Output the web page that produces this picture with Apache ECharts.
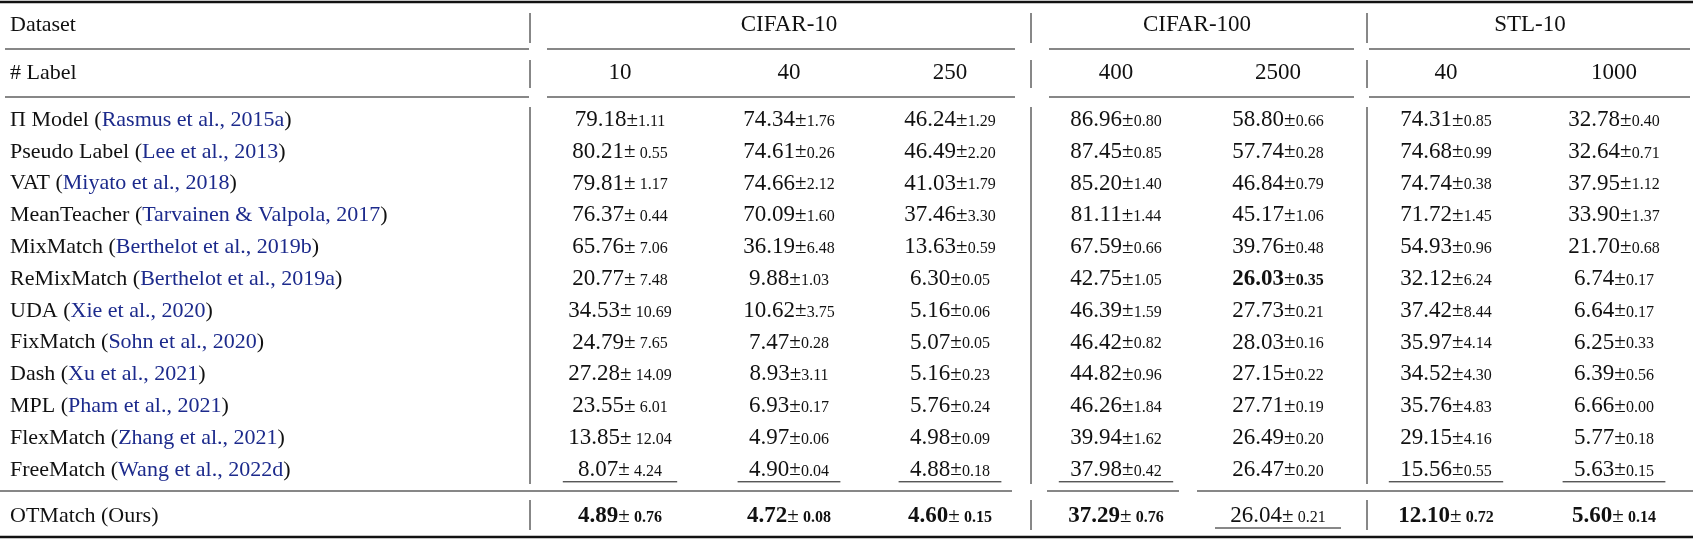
<!DOCTYPE html>
<html>
<head>
<meta charset="utf-8">
<script src="https://cdn.jsdelivr.net/npm/echarts@6/dist/echarts.min.js"></script>
<style>html,body{margin:0;padding:0;background:#fff}#main{width:1693px;height:544px}</style>
</head>
<body>
<div id="main"></div>
<script>
const methods = ['\u03A0 Model', 'Pseudo Label', 'VAT', 'MeanTeacher', 'MixMatch', 'ReMixMatch', 'UDA', 'FixMatch', 'Dash', 'MPL', 'FlexMatch', 'FreeMatch', 'OTMatch']
const cites = ['Rasmus et al., 2015a', 'Lee et al., 2013', 'Miyato et al., 2018', 'Tarvainen & Valpola, 2017', 'Berthelot et al., 2019b', 'Berthelot et al., 2019a', 'Xie et al., 2020', 'Sohn et al., 2020', 'Xu et al., 2021', 'Pham et al., 2021', 'Zhang et al., 2021', 'Wang et al., 2022d', '']
const groups = ['CIFAR-10', 'CIFAR-100', 'STL-10']
const labels = ['10', '40', '250', '400', '2500', '40', '1000']
// mean / std per column
const c10_10 = [['79.18', '1.11'], ['80.21', ' 0.55'], ['79.81', ' 1.17'], ['76.37', ' 0.44'], ['65.76', ' 7.06'], ['20.77', ' 7.48'], ['34.53', ' 10.69'], ['24.79', ' 7.65'], ['27.28', ' 14.09'], ['23.55', ' 6.01'], ['13.85', ' 12.04'], ['8.07', ' 4.24'], ['4.89', ' 0.76']]
const c10_40 = [['74.34', '1.76'], ['74.61', '0.26'], ['74.66', '2.12'], ['70.09', '1.60'], ['36.19', '6.48'], ['9.88', '1.03'], ['10.62', '3.75'], ['7.47', '0.28'], ['8.93', '3.11'], ['6.93', '0.17'], ['4.97', '0.06'], ['4.90', '0.04'], ['4.72', ' 0.08']]
const c10_250 = [['46.24', '1.29'], ['46.49', '2.20'], ['41.03', '1.79'], ['37.46', '3.30'], ['13.63', '0.59'], ['6.30', '0.05'], ['5.16', '0.06'], ['5.07', '0.05'], ['5.16', '0.23'], ['5.76', '0.24'], ['4.98', '0.09'], ['4.88', '0.18'], ['4.60', ' 0.15']]
const c100_400 = [['86.96', '0.80'], ['87.45', '0.85'], ['85.20', '1.40'], ['81.11', '1.44'], ['67.59', '0.66'], ['42.75', '1.05'], ['46.39', '1.59'], ['46.42', '0.82'], ['44.82', '0.96'], ['46.26', '1.84'], ['39.94', '1.62'], ['37.98', '0.42'], ['37.29', ' 0.76']]
const c100_2500 = [['58.80', '0.66'], ['57.74', '0.28'], ['46.84', '0.79'], ['45.17', '1.06'], ['39.76', '0.48'], ['26.03', '0.35'], ['27.73', '0.21'], ['28.03', '0.16'], ['27.15', '0.22'], ['27.71', '0.19'], ['26.49', '0.20'], ['26.47', '0.20'], ['26.04', ' 0.21']]
const stl_40 = [['74.31', '0.85'], ['74.68', '0.99'], ['74.74', '0.38'], ['71.72', '1.45'], ['54.93', '0.96'], ['32.12', '6.24'], ['37.42', '8.44'], ['35.97', '4.14'], ['34.52', '4.30'], ['35.76', '4.83'], ['29.15', '4.16'], ['15.56', '0.55'], ['12.10', ' 0.72']]
const stl_1000 = [['32.78', '0.40'], ['32.64', '0.71'], ['37.95', '1.12'], ['33.90', '1.37'], ['21.70', '0.68'], ['6.74', '0.17'], ['6.64', '0.17'], ['6.25', '0.33'], ['6.39', '0.56'], ['6.66', '0.00'], ['5.77', '0.18'], ['5.63', '0.15'], ['5.60', ' 0.14']]
const columns = [c10_10, c10_40, c10_250, c100_400, c100_2500, stl_40, stl_1000]
// [column, row] of bold and underlined cells
const boldCells = [[0, 12], [1, 12], [2, 12], [3, 12], [5, 12], [6, 12], [4, 5]]
const underCells = [[0, 11], [1, 11], [2, 11], [3, 11], [5, 11], [6, 11], [4, 12]]

const colX = [620, 789, 950, 1116, 1278, 1446, 1614]
const groupX = [789, 1197, 1530]
const rowY = i => i < 12 ? 120 + i * 31.8 : 516
const FONT = '"Liberation Serif", "DejaVu Serif", serif'
const INK = '#111'
const BLUE = '#1c2a8c'

const isIn = (list, c, r) => list.some(p => p[0] === c && p[1] === r)

const cellData = []
columns.forEach((col, c) => col.forEach((v, r) => cellData.push([c, r])))

function textStyle(txt, x, y, size, align, weight, fill) {
  return {type: 'text', x: x, y: y, style: {text: txt, font: (weight || 'normal') + ' ' + size + 'px ' + FONT, fill: fill || INK, align: align || 'center', verticalAlign: 'middle'}}
}

const chart = echarts.init(document.getElementById('main'))
chart.setOption({
  animation: false,
  grid: {left: 0, right: 0, top: 0, bottom: 0},
  xAxis: {type: 'value', min: 0, max: 1693, show: false},
  yAxis: {type: 'value', min: 0, max: 544, inverse: true, show: false},
  series: [
    {
      type: 'custom',
      data: cellData,
      renderItem: function (params, api) {
        const c = api.value(0), r = api.value(1)
        const v = columns[c][r]
        const p = api.coord([colX[c], rowY(r)])
        const bold = isIn(boldCells, c, r)
        const w = bold ? 'bold' : 'normal'
        const children = [{
          type: 'text', x: p[0], y: p[1],
          style: {
            text: '{m|' + v[0] + '}{pm|\u00B1}{s|' + v[1] + '}',
            align: 'center', verticalAlign: 'middle',
            rich: {
              m: {font: w + ' 23px ' + FONT, fill: INK},
              pm: {font: 'normal 21px ' + FONT, fill: INK},
              s: {font: w + ' 16px ' + FONT, fill: INK, padding: [3, 0, 0, 0]}
            }
          }
        }]
        if (isIn(underCells, c, r)) {
          const half = (v[0].length + v[1].length) * 5.8 + 5
          children.push({type: 'line', shape: {x1: p[0] - half, y1: p[1] + 12, x2: p[0] + half, y2: p[1] + 12}, style: {stroke: INK, lineWidth: 1}})
        }
        return {type: 'group', children: children}
      }
    },
    {
      type: 'custom',
      data: methods.map((m, i) => [i]),
      renderItem: function (params, api) {
        const i = api.value(0)
        const p = api.coord([10, rowY(i)])
        if (!cites[i]) {
          return textStyle(methods[i] + ' (Ours)', p[0], p[1], 22, 'left')
        }
        return {
          type: 'text', x: p[0], y: p[1],
          style: {
            text: '{a|' + methods[i] + ' (}{b|' + cites[i] + '}{a|)}',
            align: 'left', verticalAlign: 'middle',
            rich: {a: {font: '22px ' + FONT, fill: INK}, b: {font: '22px ' + FONT, fill: BLUE}}
          }
        }
      }
    },
    {
      type: 'custom',
      data: labels.map((l, i) => [i]),
      renderItem: function (params, api) {
        const i = api.value(0)
        const p = api.coord([colX[i], 73])
        return textStyle(labels[i], p[0], p[1], 23)
      }
    },
    {
      type: 'custom',
      data: groups.map((g, i) => [i]),
      renderItem: function (params, api) {
        const i = api.value(0)
        const p = api.coord([groupX[i], 25])
        return textStyle(groups[i], p[0], p[1], 23)
      }
    }
  ],
  graphic: [
    textStyle('Dataset', 10, 25, 22, 'left'),
    textStyle('# Label', 10, 73, 22, 'left'),
    {type: 'line', shape: {x1: 0, y1: 2, x2: 1693, y2: 2}, style: {stroke: INK, lineWidth: 2.5}},
    {type: 'line', shape: {x1: 0, y1: 537, x2: 1693, y2: 537}, style: {stroke: INK, lineWidth: 2.5}},
    ...[49, 97].flatMap(y => [[5, 529], [547, 1015], [1049, 1354], [1369, 1690]].map(s => ({type: 'line', shape: {x1: s[0], y1: y, x2: s[1], y2: y}, style: {stroke: INK, lineWidth: 1.2}}))),
    ...[[0, 1012], [1047, 1179], [1197, 1693]].map(s => ({type: 'line', shape: {x1: s[0], y1: 491, x2: s[1], y2: 491}, style: {stroke: INK, lineWidth: 1.2}})),
    ...[530, 1031, 1367].flatMap(x => [[13, 43], [60, 88], [107, 484], [500, 530]].map(s => ({type: 'line', shape: {x1: x, y1: s[0], x2: x, y2: s[1]}, style: {stroke: INK, lineWidth: 1}})))
  ]
})
</script>
</body>
</html>
